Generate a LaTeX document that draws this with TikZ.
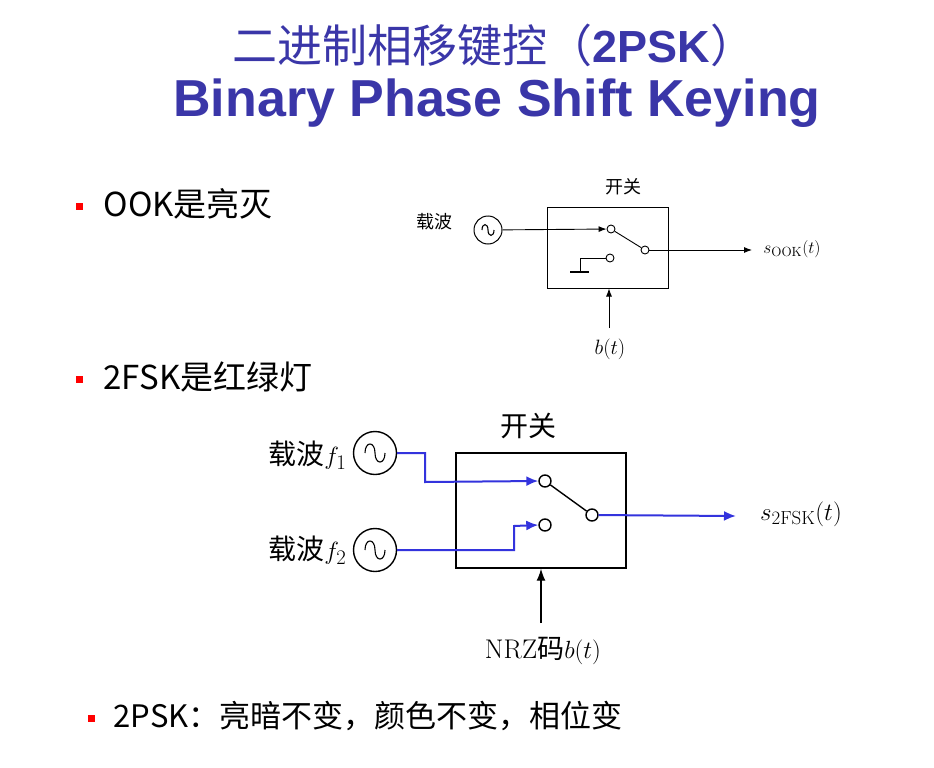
\documentclass[tikz,border=0pt]{standalone}
\usepackage{fontspec}
\newfontfamily\cjk{Noto Sans CJK SC}
\newfontfamily\titlesans{Liberation Sans}
\usetikzlibrary{arrows.meta}
\definecolor{tblue}{HTML}{3A36A8}
\definecolor{lblue}{HTML}{3333DD}
\begin{document}
\begin{tikzpicture}[x=1pt,y=-1pt,
  src/.style={draw,circle,line width=1pt,inner sep=0pt},
  ct/.style={draw,circle,line width=0.9pt,inner sep=0pt},
  wire/.style={line width=0.9pt},
  bwire/.style={line width=2pt,draw=lblue},
  bullet/.style={fill=red,minimum size=7pt,inner sep=0pt}]
\useasboundingbox (0,0) rectangle (934,768);
\fill[white] (0,0) rectangle (934,768);
% titles
\node[text=tblue,font=\cjk\fontsize{45}{48}\selectfont] (t1) at (494,45) {二进制相移键控（{\titlesans\bfseries 2PSK}）};
\node[text=tblue,font=\titlesans\bfseries\fontsize{52}{54}\selectfont] (t2) at (497,103) {Binary Phase Shift Keying};
% bullets
\node[bullet] (b1) at (79,206) {};
\node[anchor=west,font=\cjk\fontsize{33}{34}\selectfont] (l1) at (100,204) {OOK是亮灭};
\node[bullet] (b2) at (79,379) {};
\node[anchor=west,font=\cjk\fontsize{33}{34}\selectfont] (l2) at (100,377) {2FSK是红绿灯};
\node[bullet] (b3) at (91,718) {};
\node[anchor=west,font=\cjk\fontsize{31}{32}\selectfont] (l3) at (110,716) {2PSK：亮暗不变，颜色不变，相位变};
% OOK diagram
\node[draw,line width=1pt,minimum width=121pt,minimum height=81pt,inner sep=0pt] (box1) at (607.5,247.5) {};
\node[font=\cjk\fontsize{18}{18}\selectfont] (k1) at (623,187) {开关};
\node[font=\cjk\fontsize{18}{18}\selectfont] (z1) at (434,222) {载波};
\node[src,minimum size=28pt] (s1) at (488,230) {};
\node[ct,minimum size=8pt] (c1a) at (611,229) {};
\node[ct,minimum size=8pt] (c1b) at (610,258) {};
\node[ct,minimum size=8pt] (c1o) at (645,250) {};
\coordinate (g1) at (580,272);
\coordinate (e1) at (752,250);
\coordinate (bb1) at (609,328);
\draw[wire,-{Latex[length=8pt,width=6pt]}] (s1) -- (c1a);
\draw[wire] (c1a) -- (c1o);
\draw[wire,-{Latex[length=8pt,width=6pt]}] (c1o) -- (e1);
\draw[wire] (c1b) -| (g1);
\draw[line width=2pt] (570,272) -- (589,272);
\draw[wire,-{Latex[length=8pt,width=6pt]}] (bb1) -- (box1.south -| bb1);
\node[font=\fontsize{19}{19}\selectfont] (o1) at (792,249) {$s_{\mathrm{OOK}}(t)$};
\node[font=\fontsize{20}{20}\selectfont] (bt1) at (610,349) {$b(t)$};
% 2FSK diagram
\node[draw,line width=1.4pt,minimum width=170pt,minimum height=115pt,inner sep=0pt] (box2) at (541,510.5) {};
\node[font=\cjk\fontsize{28}{28}\selectfont] (k2) at (528,426) {开关};
\node[font=\fontsize{28}{28}\selectfont,anchor=east] (z2) at (350,455) {\cjk 载波\rmfamily$f_1$};
\node[font=\fontsize{28}{28}\selectfont,anchor=east] (z3) at (350,550) {\cjk 载波\rmfamily$f_2$};
\node[src,line width=1.4pt,minimum size=43pt] (sa) at (375,453) {};
\node[src,line width=1.4pt,minimum size=43pt] (sb) at (375,550) {};
\foreach \c/\r in {s1/6,sa/10,sb/10}{
  \draw[line width=1.1pt] ([xshift=-\r pt]\c.center) .. controls +(0,-1.2*\r) and +(0,-1.2*\r) .. (\c.center)
    .. controls +(0,1.2*\r) and +(0,1.2*\r) .. ([xshift=\r pt]\c.center);}
\node[ct,line width=1.4pt,minimum size=12pt] (c2a) at (545,481) {};
\node[ct,line width=1.4pt,minimum size=12pt] (c2b) at (545,525) {};
\node[ct,line width=1.4pt,minimum size=12pt] (c2o) at (592,515) {};
\coordinate (e2) at (736,516);
\coordinate (bb2) at (541,623);
\draw[bwire,-{Latex[length=12pt,width=10pt]}] (sa.east) -- (425,453) -- (425,482) -- (c2a.west);
\draw[bwire,-{Latex[length=12pt,width=10pt]}] (sb.east) -- (514,550) -- (514,526) -- (c2b.west);
\draw[line width=1.4pt] (c2a) -- (c2o);
\draw[bwire,-{Latex[length=12pt,width=10pt]}] (c2o) -- (e2);
\draw[line width=1.4pt,-{Latex[length=12pt,width=9pt]}] (bb2) -- (box2.south -| bb2);
\node[font=\fontsize{27}{27}\selectfont] (o2) at (801,514) {$s_{\mathrm{2FSK}}(t)$};
\node[font=\fontsize{27}{27}\selectfont] (bt2) at (543,651) {NRZ{\cjk 码}$b(t)$};
\end{tikzpicture}
\end{document}
